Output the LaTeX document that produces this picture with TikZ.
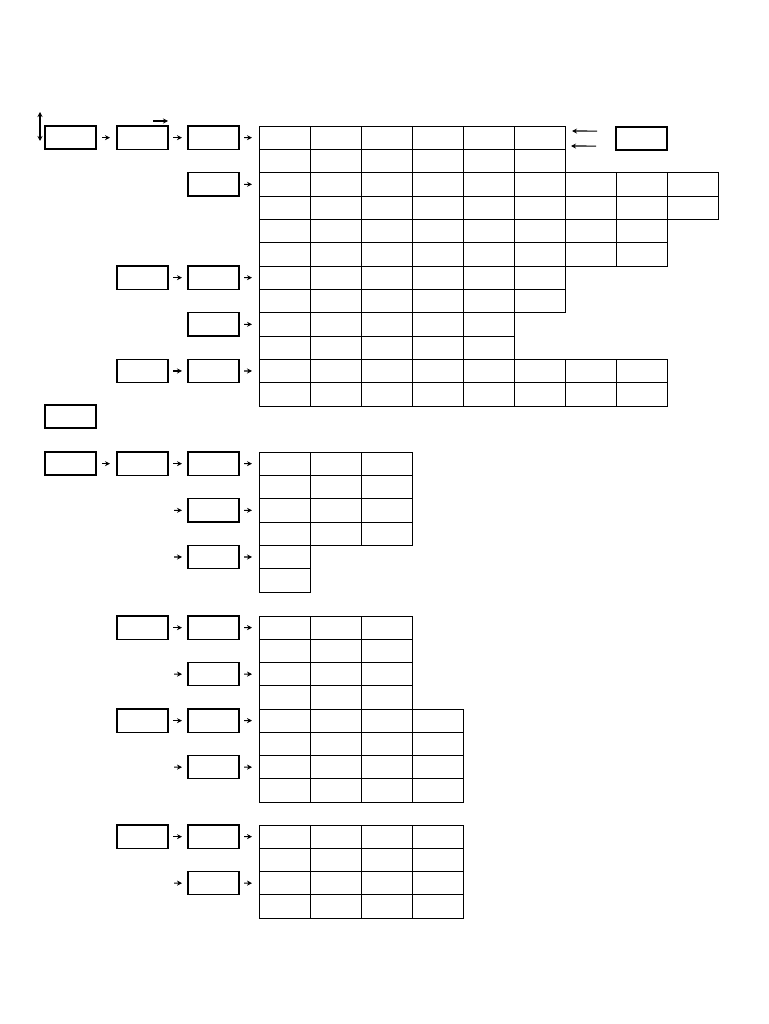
\documentclass[tikz,border=0pt]{standalone}
\usetikzlibrary{arrows.meta}
\newcommand\gridpair[3]{%
  \foreach \c in {1,...,#2}{%
    \draw[cell] ({259+51*(\c-1)},{#1}) rectangle ({259+51*\c},{#1+#3});
    \draw[cell] ({259+51*(\c-1)},{#1+#3}) rectangle ({259+51*\c},{#1+2*#3});
  }}
\begin{document}
\begin{tikzpicture}[x=1pt,y=-1pt,
  box/.style={draw, line width=1.1pt, minimum width=51pt, minimum height=23.3pt, inner sep=0pt, outer sep=0pt, anchor=north west},
  thickbox/.style={box, line width=2pt},
  cell/.style={line width=0.9pt},
  arr/.style={-{Stealth[length=5pt,width=5pt]}, line width=1.1pt},
  ab/.style={arr, shorten <=6pt, shorten >=7pt},
  bc/.style={arr, shorten <=5pt, shorten >=6pt},
  cg/.style={arr, shorten <=5pt, shorten >=7pt},
  sc/.style={arr, shorten >=6pt}]
\fill[white] (0,0) rectangle (768,1024);
\useasboundingbox (0,0) rectangle (768,1024);

% grids
\gridpair{126}{6}{23.333}
\gridpair{172.667}{9}{23.333}
\gridpair{219.333}{8}{23.333}
\gridpair{266}{6}{23.333}
\gridpair{312.667}{5}{23.333}
\gridpair{359.333}{8}{23.333}
\gridpair{452}{3}{23.333}
\gridpair{498.667}{3}{23.333}
\gridpair{545.333}{1}{23.333}
\gridpair{616}{3}{23.25}
\gridpair{662.5}{3}{23.25}
\gridpair{709}{4}{23.25}
\gridpair{755.5}{4}{23.25}
\gridpair{825}{4}{23.25}
\gridpair{871.5}{4}{23.25}

% grid entry points
\coordinate (g1) at (259,137.7);
\coordinate (g2) at (259,184.3);
\coordinate (g4) at (259,277.7);
\coordinate (g5) at (259,324.3);
\coordinate (g6) at (259,371.0);
\coordinate (g8) at (259,463.7);
\coordinate (g9) at (259,510.3);
\coordinate (g10) at (259,557.0);
\coordinate (g11) at (259,627.6);
\coordinate (g12) at (259,674.1);
\coordinate (g13) at (259,720.6);
\coordinate (g14) at (259,767.1);
\coordinate (g15) at (259,836.6);
\coordinate (g16) at (259,883.1);

% boxes
\node[thickbox] (a1) at (45,126) {};
\node[box] (b1) at (117,126) {};
\node[box] (c1) at (188,126) {};
\node[box] (c2) at (188,172.667) {};
\node[box] (b4) at (117,266) {};
\node[box] (c4) at (188,266) {};
\node[box] (c5) at (188,312.667) {};
\node[box] (b6) at (117,359.333) {};
\node[box] (c6) at (188,359.333) {};
\node[thickbox] (a7) at (45,405) {};
\node[thickbox] (a8) at (45,452) {};
\node[box] (b8) at (117,452) {};
\node[box] (c8) at (188,452) {};
\node[box] (c9) at (188,498.667) {};
\node[box] (c10) at (188,545.333) {};
\node[box] (b11) at (117,616) {};
\node[box] (c11) at (188,616) {};
\node[box] (c12) at (188,662.5) {};
\node[box] (b13) at (117,709) {};
\node[box] (c13) at (188,709) {};
\node[box] (c14) at (188,755.5) {};
\node[box] (b15) at (117,825) {};
\node[box] (c15) at (188,825) {};
\node[box] (c16) at (188,871.5) {};
\node[thickbox] (r) at (616,127) {};

% arrows between boxes
\draw[ab] (a1) -- (b1);
\draw[bc] (b1) -- (c1);
\draw[cg] (c1.east) -- (g1);
\draw[cg] (c2.east) -- (g2);
\draw[bc] (b4) -- (c4);
\draw[cg] (c4.east) -- (g4);
\draw[cg] (c5.east) -- (g5);
\draw[bc] (b6) -- (c6);
\draw[cg] (c6.east) -- (g6);
\draw[ab] (a8) -- (b8);
\draw[bc] (b8) -- (c8);
\draw[cg] (c8.east) -- (g8);
\draw[cg] (c9.east) -- (g9);
\draw[cg] (c10.east) -- (g10);
\draw[bc] (b11) -- (c11);
\draw[cg] (c11.east) -- (g11);
\draw[cg] (c12.east) -- (g12);
\draw[bc] (b13) -- (c13);
\draw[cg] (c13.east) -- (g13);
\draw[cg] (c14.east) -- (g14);
\draw[bc] (b15) -- (c15);
\draw[cg] (c15.east) -- (g15);
\draw[cg] (c16.east) -- (g16);

% arrows with free start
\coordinate (s9) at (174,510.3);
\coordinate (s10) at (174,557.0);
\coordinate (s12) at (174,674.1);
\coordinate (s14) at (174,767.1);
\coordinate (s16) at (174,883.1);
\draw[sc] (s9) -- (c9.west);
\draw[sc] (s10) -- (c10.west);
\draw[sc] (s12) -- (c12.west);
\draw[sc] (s14) -- (c14.west);
\draw[sc] (s16) -- (c16.west);

% top-right arrows
\coordinate (q1) at (572,131);
\coordinate (q2) at (571,146);
\draw[arr, shorten <=19pt] ([yshift=7.5pt]r.west) -- (q1);
\draw[arr, shorten <=20pt] ([yshift=-7.5pt]r.west) -- (q2);

% small marks
\coordinate (v1) at (40,112);
\coordinate (v2) at (40,141);
\draw[{Stealth[length=5pt,width=5pt]}-{Stealth[length=5pt,width=5pt]}, line width=1.1pt] (v1) -- (v2);
\coordinate (h1) at (153,121);
\coordinate (h2) at (168,121);
\draw[arr] (h1) -- (h2);
\end{tikzpicture}
\end{document}
